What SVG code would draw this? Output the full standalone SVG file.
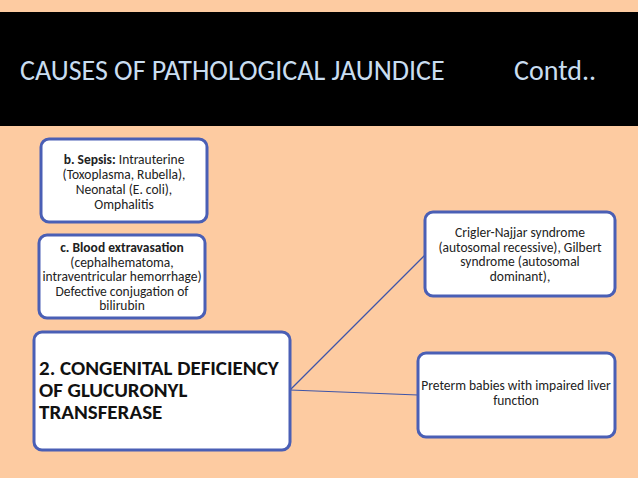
<svg xmlns="http://www.w3.org/2000/svg" width="638" height="478" viewBox="0 0 638 478">
<style>
.box{fill:#fff;stroke:#4a5fb5;stroke-width:3}
.t{font-family:Calibri,"Carlito","Liberation Sans",sans-serif;font-size:13.5px;fill:#222;text-anchor:middle}
.b{font-weight:bold}
.big{font-family:Calibri,"Carlito","Liberation Sans",sans-serif;font-size:21px;font-weight:bold;fill:#111}
.ln{stroke:#3f55a8;stroke-width:1.2;fill:none}
</style>
<rect width="638" height="478" fill="#fdcba1"/>
<rect y="12" width="638" height="114" fill="#000"/>
<text x="20" y="80" font-family="Calibri,Carlito,'Liberation Sans',sans-serif" font-size="28" fill="#c9ddf0">CAUSES OF PATHOLOGICAL JAUNDICE</text>
<text x="514" y="80" font-family="Calibri,Carlito,'Liberation Sans',sans-serif" font-size="28" fill="#c9ddf0">Contd..</text>
<g id="connectors">
<line class="ln" x1="290" y1="390" x2="425" y2="255"/>
<line class="ln" x1="290" y1="390" x2="418" y2="395"/>
</g>
<g id="sepsis">
<rect class="box" x="41" y="139" width="166" height="83" rx="8"/>
<text class="t" y="164"><tspan x="124"><tspan class="b">b. Sepsis:</tspan> Intrauterine</tspan><tspan x="124" dy="15">(Toxoplasma, Rubella),</tspan><tspan x="124" dy="15">Neonatal (E. coli),</tspan><tspan x="124" dy="15">Omphalitis</tspan></text>
</g>
<g id="blood">
<rect class="box" x="39" y="235" width="166" height="83" rx="8"/>
<text class="t" y="252"><tspan x="122" class="b">c. Blood extravasation</tspan><tspan x="122" dy="14.5">(cephalhematoma,</tspan><tspan x="122" dy="14.5">intraventricular hemorrhage)</tspan><tspan x="122" dy="14.5">Defective conjugation of</tspan><tspan x="122" dy="14.5">bilirubin</tspan></text>
</g>
<g id="congenital">
<rect class="box" x="34" y="332" width="256" height="118" rx="8"/>
<text class="big" y="375"><tspan x="39">2. CONGENITAL DEFICIENCY</tspan><tspan x="39" dy="22">OF GLUCURONYL</tspan><tspan x="39" dy="22">TRANSFERASE</tspan></text>
</g>
<g id="crigler">
<rect class="box" x="425" y="212" width="190" height="84" rx="8"/>
<text class="t" y="237"><tspan x="520">Crigler-Najjar syndrome</tspan><tspan x="520" dy="14.5">(autosomal recessive), Gilbert</tspan><tspan x="520" dy="14.5">syndrome (autosomal</tspan><tspan x="520" dy="14.5">dominant),</tspan></text>
</g>
<g id="preterm">
<rect class="box" x="418" y="353" width="197" height="84" rx="8"/>
<text class="t" y="390"><tspan x="516">Preterm babies with impaired liver</tspan><tspan x="516" dy="14.5">function</tspan></text>
</g>
</svg>
